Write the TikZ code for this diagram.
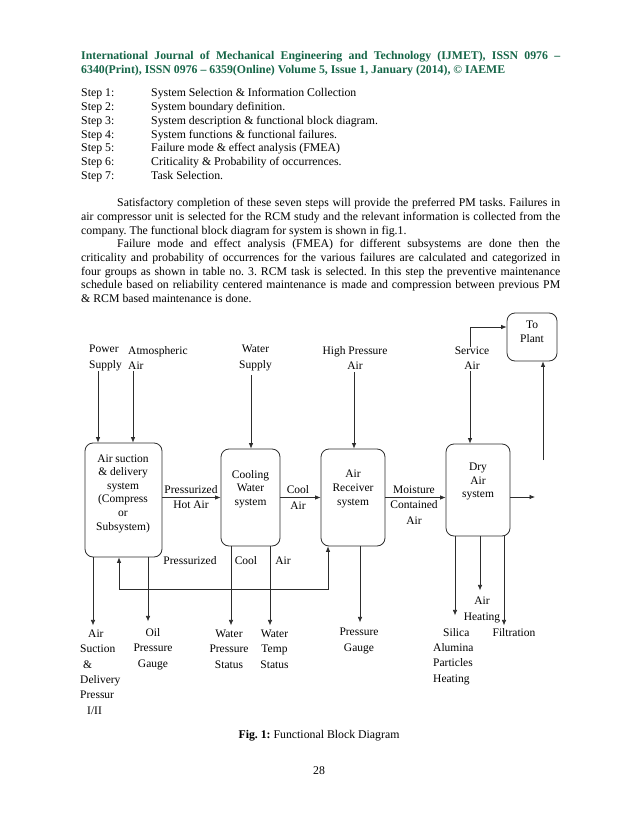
\documentclass[tikz,border=0pt]{standalone}
\usepackage{fontspec}
\setmainfont{Liberation Serif}
\usetikzlibrary{arrows.meta}
\definecolor{hdrgreen}{RGB}{22,102,72}
\definecolor{wirecol}{RGB}{45,45,45}
\frenchspacing
\begin{document}
\begin{tikzpicture}[x=1pt,y=-1pt,
  myarrow/.tip={Latex[length=5.5pt,width=4.5pt]},
  body/.style={font=\fontsize{11.8}{13.7}\selectfont, inner sep=0pt},
  hdr/.style={font=\fontsize{11.8}{13.7}\selectfont\bfseries, text=hdrgreen, inner sep=0pt},
  lbl/.style={font=\fontsize{11.5}{15.3}\selectfont, inner sep=0pt, align=center},
  boxtxt/.style={font=\fontsize{11.5}{13.6}\selectfont, inner sep=0pt, align=center},
  blk/.style={draw=wirecol, line width=0.8pt, rounded corners=8pt, inner sep=0pt},
  arr/.style={draw=wirecol, line width=0.7pt, -myarrow},
  arr2/.style={draw=wirecol, line width=0.7pt, myarrow-myarrow}
]
\path[use as bounding box, fill=white] (0,0) rectangle (638,826);

% header
\node[hdr, anchor=base west, text width=479pt, align=justify] (hdr1) at (81,60)
  {\hyphenpenalty=10000 International Journal of Mechanical Engineering and Technology (IJMET), ISSN 0976 –\linebreak 6340(Print), ISSN 0976 – 6359(Online) Volume 5, Issue 1, January (2014), © IAEME};

% steps
\foreach \t [count=\k from 1] in {System Selection \& Information Collection,
  System boundary definition.,
  System description \& functional block diagram.,
  System functions \& functional failures.,
  Failure mode \& effect analysis (FMEA),
  Criticality \& Probability of occurrences.,
  Task Selection.}{
  \node[body, anchor=base west] (sl\k) at (81,{97+13.7*(\k-1)}) {Step \k:};
  \node[body, anchor=base west] (st\k) at (151,{97+13.7*(\k-1)}) {\t};
}

% paragraphs
\node[body, anchor=base west, text width=479pt, align=justify] (para1) at (81,206.6)
  {\hyphenpenalty=10000\hspace*{36pt}Satisfactory completion of these seven steps will provide the preferred PM tasks. Failures in\linebreak air compressor unit is selected for the RCM study and the relevant information is collected from the\linebreak company. The functional block diagram for system is shown in fig.1.};
\node[body, anchor=base west, text width=479pt, align=justify] (para2) at (81,247.7)
  {\hyphenpenalty=10000\hspace*{36pt}Failure mode and effect analysis (FMEA) for different subsystems are done then the\linebreak criticality and probability of occurrences for the various failures are calculated and categorized in\linebreak four groups as shown in table no. 3. RCM task is selected. In this step the preventive maintenance\linebreak schedule based on reliability centered maintenance is made and compression between previous PM\linebreak \& RCM based maintenance is done.};

% blocks
\node[blk, minimum width=77, minimum height=114] (suc) at (123.5,500) {};
\node[blk, minimum width=59, minimum height=97] (cool) at (250.5,497.5) {};
\node[blk, minimum width=64, minimum height=97] (rec) at (353,497.5) {};
\node[blk, minimum width=64, minimum height=92] (dry) at (478,490) {};
\node[blk, minimum width=50, minimum height=48] (plant) at (532,337) {};

\node[boxtxt] (suct) at (123,493.5) {Air suction\\\& delivery\\system\\(Compress\\or\\Subsystem)};
\node[boxtxt] (coolt) at (250.5,489) {Cooling\\Water\\system};
\node[boxtxt] (rect) at (353,489) {Air\\Receiver\\system};
\node[boxtxt] (dryt) at (478,481.5) {Dry\\Air\\system};
\node[boxtxt] (plantt) at (532,331.5) {To\\Plant};

% top labels
\node[lbl, align=left, anchor=west] (pw) at (89,358) {Power\\Supply};
\node[lbl, align=left, anchor=west] (atm) at (128,358) {Atmospheric\\Air};
\node[lbl] (wsup) at (255.5,358) {Water\\Supply};
\node[lbl] (hpa) at (355,358) {High Pressure\\Air};
\node[lbl] (sva) at (472,358) {Service\\Air};

% top arrows
\coordinate (pwA) at (98,371);
\coordinate (atA) at (133,371);
\coordinate (wsA) at (251,375);
\coordinate (hpA) at (354,372);
\coordinate (svA) at (470,371);
\coordinate (svB) at (470,347);
\coordinate (upA) at (543,460);
\coordinate (dryOut) at (535,497);
\draw[arr] (pwA) -- (pwA |- suc.north);
\draw[arr] (atA) -- (atA |- suc.north);
\draw[arr] (wsA) -- (wsA |- cool.north);
\draw[arr] (hpA) -- (hpA |- rec.north);
\draw[arr] (svA) -- (svA |- dry.north);
\draw[arr] (svB) |- ([yshift=10pt]plant.west);
\draw[arr] (upA) -- (upA |- plant.south);
\draw[arr] (dry.east |- dryOut) -- (dryOut);

% flow arrows
\draw[arr] (suc.east |- cool.west) -- (cool.west);
\draw[arr] (cool.east) -- (rec.west);
\draw[arr] (rec.east) -- (rec.east -| dry.west);
\draw[arr2] ([xshift=-4.5pt]suc.south) -- ++(0,32) -| ([xshift=-25pt]rec.south);

% mid labels
\node[lbl] (phot) at (191,497) {Pressurized\\Hot Air};
\node[lbl] (cair) at (298,497.5) {Cool\\Air};
\node[lbl] (mca) at (414,505) {Moisture\\Contained\\Air};
\node[lbl] (pca1) at (190,561) {Pressurized};
\node[lbl] (pca2) at (246,561) {Cool};
\node[lbl] (pca3) at (283,561) {Air};
\node[lbl] (aheat) at (482,610) {Air\\Heating};

% bottom arrows
\draw[arr] ([xshift=-30.5pt]suc.south) -- ++(0,68);
\draw[arr] ([xshift=24.5pt]suc.south) -- ++(0,64);
\draw[arr] ([xshift=-19.5pt]cool.south) -- ++(0,79);
\draw[arr] ([xshift=19.5pt]cool.south) -- ++(0,79);
\draw[arr] ([xshift=7pt]rec.south) -- ++(0,76);
\draw[arr] ([xshift=-23pt]dry.south) -- ++(0,79);
\draw[arr] ([xshift=2pt]dry.south) -- ++(0,54);
\draw[arr] ([xshift=26pt]dry.south) -- ++(0,89);

% bottom labels
\node[lbl, align=left, anchor=west] (asd) at (80,672) {\hspace*{8pt}Air\\Suction\\\hspace*{3pt}\&\\Delivery\\Pressur\\\hspace*{7pt}I/II};
\node[lbl] (opg) at (153,649) {Oil\\Pressure\\Gauge};
\node[lbl] (wps) at (229,649) {Water\\Pressure\\Status};
\node[lbl] (wts) at (274.5,649) {Water\\Temp\\Status};
\node[lbl] (pg) at (359,641) {Pressure\\Gauge};
\node[lbl, align=left, anchor=west] (sap) at (433,656.5) {\hspace*{10pt}Silica\\Alumina\\Particles\\Heating};
\node[lbl] (filt) at (514,633) {Filtration};

% caption
\node[body] (cap) at (319,736) {\textbf{Fig. 1:} Functional Block Diagram};
\node[body] (pno) at (319,771) {28};
\end{tikzpicture}
\end{document}
